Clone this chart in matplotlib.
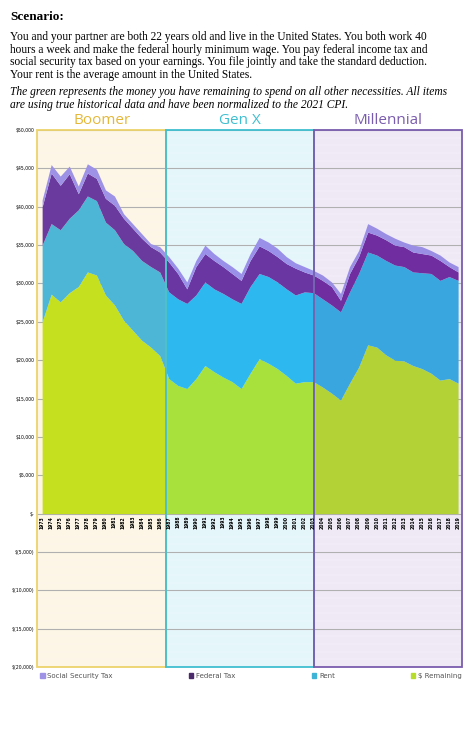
import matplotlib
matplotlib.use("Agg")
import matplotlib.pyplot as plt
import numpy as np
from matplotlib.patches import Patch

years = list(range(1973, 2020))
remaining = [25000,28600,27600,28800,29600,31500,31100,28500,27200,25200,23900,22600,21700,20600,
             17600,16700,16300,17600,19300,18500,17800,17200,16300,18300,20200,19600,18900,18000,17000,17200,
             17200,16500,15700,14800,17000,19100,22000,21700,20700,20000,19900,19300,18900,18300,17400,17600,17000]
rent_top = [35000,37800,37000,38500,39600,41400,40800,38000,37000,35200,34300,33000,32200,31500,
            28900,28000,27400,28500,30200,29300,28700,28000,27400,29600,31300,30900,30200,29300,28500,28900,
            28800,28000,27200,26300,28900,31300,34100,33700,33000,32400,32200,31500,31400,31300,30400,30900,30400]
fed_top = [40000,44400,42800,44300,41700,44400,43700,41100,40200,38500,37200,35900,34800,34100,
           32800,31300,29300,32200,33900,33000,32200,31300,30400,33000,34900,34300,33500,32600,32000,31500,
           31100,30400,29600,27800,31300,33500,36700,36300,35700,35000,34800,34100,33900,33700,33000,32200,31500]
total_top = [40900,45500,44000,45300,42700,45600,44900,42200,41400,39100,37800,36500,35200,34800,
             33500,32000,30200,33000,35000,33900,33000,32200,31300,33900,36000,35400,34600,33500,32700,32200,
             31700,31100,30200,28700,32200,34300,37800,37200,36500,35900,35400,35000,34800,34300,33700,32800,32200]
rent = list(np.array(rent_top) - np.array(remaining))
fed_tax = list(np.array(fed_top) - np.array(rent_top))
ss_tax = list(np.array(total_top) - np.array(fed_top))
generations = ["Boomer", "Gen X", "Millennial"]

fig = plt.figure(figsize=(4.74, 7.33), dpi=100)
serif = "Liberation Serif"
fig.text(0.021, 0.985, "Scenario:", fontsize=9.5, fontweight="bold", family=serif, va="top")
lines = ["You and your partner are both 22 years old and live in the United States. You both work 40",
         "hours a week and make the federal hourly minimum wage. You pay federal income tax and",
         "social security tax based on your earnings. You file jointly and take the standard deduction.",
         "Your rent is the average amount in the United States."]
for i, l in enumerate(lines):
    fig.text(0.021, 0.958 - i*0.0175, l, fontsize=8.3, family=serif, va="top")
ital = ["The green represents the money you have remaining to spend on all other necessities. All items",
        "are using true historical data and have been normalized to the 2021 CPI."]
for i, l in enumerate(ital):
    fig.text(0.021, 0.883 - i*0.0175, l, fontsize=8.3, family=serif, style="italic", va="top")

ax = fig.add_axes([0.078, 0.09, 0.897, 0.7326])
x = np.arange(len(years))
bounds = [-0.57, 13.75, 30.05, 46.45]
bg = ["#fdf6e6", "#e5f6fb", "#efe9f6"]
edge = ["#ecd36a", "#3fbfd0", "#7a5cae"]
greens = ["#c4e01f", "#a8e03c", "#b3d236"]
rents = ["#4db6d6", "#2db9ef", "#39a6df"]
feds = ["#6b3a9f", "#6a36a2", "#6f2d9f"]
sss = ["#9d92e6", "#9a90ea", "#9a8ee4"]
for k in range(3):
    ax.axvspan(bounds[k], bounds[k+1], facecolor=bg[k], edgecolor="none", zorder=0)
ax.set_xlim(bounds[0], bounds[3])
ax.set_ylim(-20000, 50000)
ax.set_yticks(range(-20000, 50001, 5000))
ax.grid(axis="y", color="#b0b0b0", lw=0.8, zorder=1)
for yv in range(-20000, 50000, 1000):
    ax.axhline(yv, color="white", lw=0.3, alpha=0.5, zorder=1)

segs = [(0, 13.75), (13.75, 30.05), (30.05, 46)]
for k, (a, b) in enumerate(segs):
    xs = np.concatenate(([a], x[(x > a) & (x < b)], [b]))
    r = np.interp(xs, x, remaining)
    rt = np.interp(xs, x, rent_top)
    ft = np.interp(xs, x, fed_top)
    tt = np.interp(xs, x, total_top)
    ax.fill_between(xs, 0, r, color=greens[k], lw=0, zorder=2)
    ax.fill_between(xs, r, rt, color=rents[k], lw=0, zorder=2)
    ax.fill_between(xs, rt, ft, color=feds[k], lw=0, zorder=2)
    ax.fill_between(xs, ft, tt, color=sss[k], lw=0, zorder=2)

for k in range(3):
    ax.add_patch(plt.Rectangle((bounds[k], -20000), bounds[k+1]-bounds[k], 70000, fill=False,
                               edgecolor=edge[k], lw=1.3, zorder=4, clip_on=False))
    ax.text((bounds[k]+bounds[k+1])/2, 50300, generations[k], ha="center", va="bottom",
            fontsize=11, color=edge[k] if k else "#e5b83a", family="Open Sans")

def fmt(v):
    if v == 0: return "$-"
    if v < 0: return "$(%s)" % format(-v, ",")
    return "$" + format(v, ",")
ax.set_yticklabels([fmt(v) for v in range(-20000, 50001, 5000)], fontsize=3.3)
ax.tick_params(axis="y", length=0, pad=2)
ax.set_xticks([])
for i, yr in enumerate(years):
    ax.text(i, -300, str(yr), rotation=90, ha="center", va="top", fontsize=3.3, fontweight="bold", zorder=5)
for s in ax.spines.values():
    s.set_visible(False)

handles = [Patch(color="#9d92e6"), Patch(color="#4a2a6a"), Patch(color="#3fb3d6"), Patch(color="#b8dc2a")]
fig.legend(handles, ["Social Security Tax", "Federal Tax", "Rent", "$ Remaining"], loc="center",
           bbox_to_anchor=(0.53, 0.078), ncol=4, fontsize=5, frameon=False, handlelength=0.6,
           handleheight=0.6, columnspacing=11, handletextpad=0.4, labelcolor="#555555")
fig.savefig("out.png", dpi=100)
